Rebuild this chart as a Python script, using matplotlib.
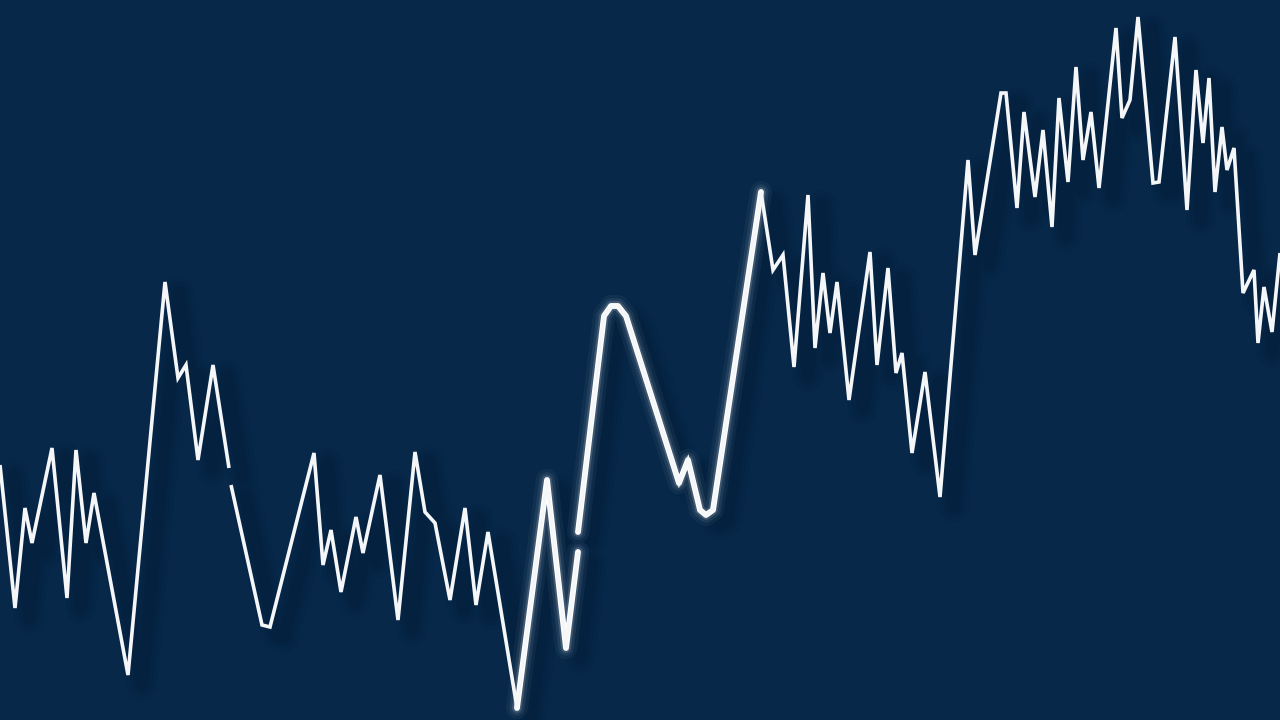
import numpy as np
import matplotlib.pyplot as plt

# vertices of the line read off the picture (x across, y measured from the top)
# nan marks the two small breaks in the line
xs = [0, 15, 25, 32, 52, 67, 76, 86, 94, 128, 165, 178, 186, 198, 213, 229,
      np.nan, 231, 262, 270, 314, 323, 331, 341, 356, 363, 380, 398, 415, 425,
      435, 450, 465, 476, 488, 517, 547, 566, 578,
      np.nan, 578, 604, 611, 618, 626, 679, 688, 700, 706, 713, 761, 773, 783,
      794, 808, 815, 823, 830, 837, 849, 870, 877, 888, 896, 902, 912, 925, 940,
      968, 975, 1001, 1006, 1017, 1024, 1035, 1043, 1052, 1059, 1068, 1076,
      1083, 1091, 1099, 1116, 1122, 1130, 1138, 1153, 1159, 1175, 1187, 1196,
      1203, 1209, 1215, 1222, 1227, 1234, 1243, 1254, 1258, 1264, 1272, 1280]
ys = [465, 608, 508, 543, 448, 598, 450, 543, 493, 675, 282, 378, 365, 460, 365, 468,
      np.nan, 485, 625, 627, 453, 565, 530, 592, 517, 553, 475, 620, 452, 512,
      523, 600, 508, 605, 532, 708, 480, 648, 552,
      np.nan, 532, 316, 306, 306, 316, 483, 460, 510, 515, 510, 192, 270, 255,
      367, 195, 348, 273, 333, 282, 400, 252, 365, 268, 373, 353, 453, 372, 497,
      160, 255, 93, 93, 208, 112, 197, 130, 227, 98, 182, 67,
      160, 112, 188, 28, 118, 100, 17, 183, 182, 37, 210, 70,
      143, 78, 192, 127, 170, 148, 293, 270, 343, 287, 332, 253]

# stretch of the line that glows
glow_from, glow_to = 500, 765

bg = '#072849'
fig = plt.figure(figsize=(12.8, 7.2), dpi=100, facecolor=bg)
ax = fig.add_axes([0, 0, 1, 1])
ax.set_facecolor(bg)

x = np.array(xs, dtype=float)
y = np.array(ys, dtype=float)

# soft drop shadow
for w, a in [(22, 0.05), (15, 0.07), (9, 0.10)]:
    ax.plot(x + 14, y + 10, color='#021426', lw=w, alpha=a,
            solid_joinstyle='round', solid_capstyle='round')

# glow around the bright section
gx = np.where((x >= glow_from) & (x <= glow_to), x, np.nan)
for w, a in [(16, 0.04), (11, 0.07), (7, 0.15)]:
    ax.plot(gx, y, color='white', lw=w, alpha=a,
            solid_joinstyle='round', solid_capstyle='round')
ax.plot(gx, y, color='white', lw=4.2, solid_joinstyle='round',
        solid_capstyle='round')

ax.plot(x, y, color='#f4f6f8', lw=2.6, solid_joinstyle='miter',
        solid_capstyle='butt')

ax.set_xlim(0, 1280)
ax.set_ylim(720, 0)
ax.axis('off')

fig.savefig('out.png', dpi=100, facecolor=bg)
